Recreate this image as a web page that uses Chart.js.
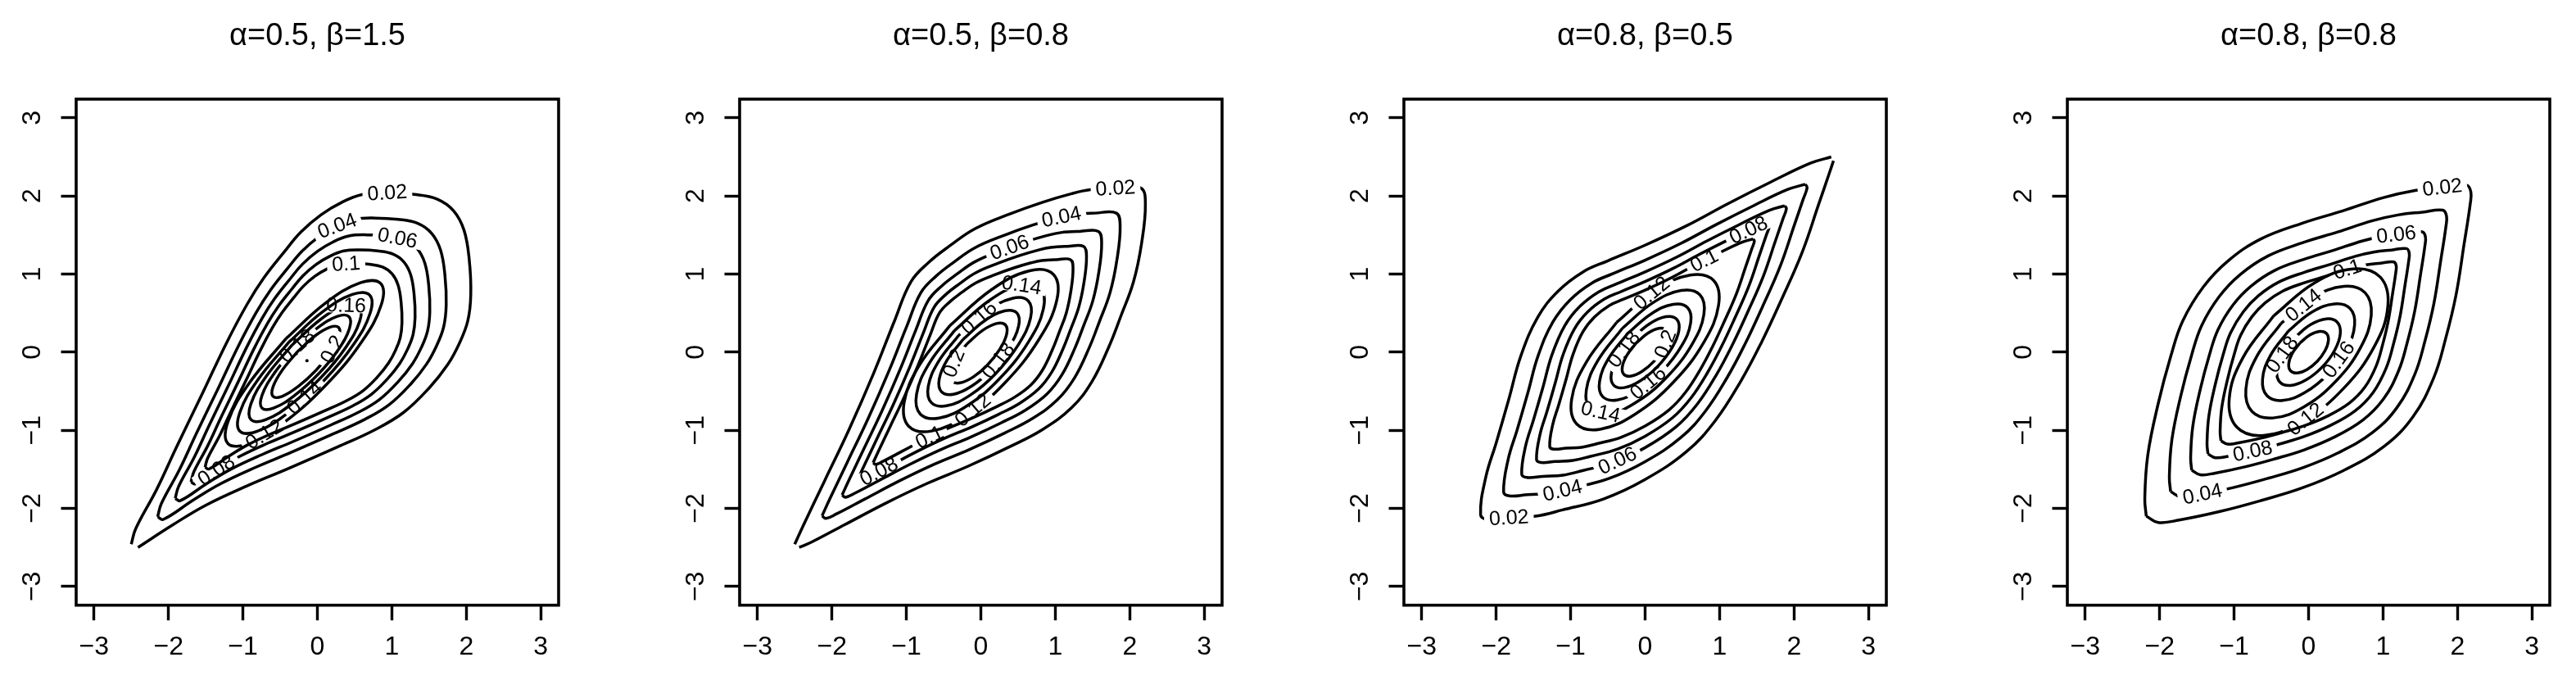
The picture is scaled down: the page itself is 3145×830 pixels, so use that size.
<!DOCTYPE html>
<html>
<head>
<meta charset="utf-8">
<script src="https://cdn.jsdelivr.net/npm/chart.js@4.4.1/dist/chart.umd.min.js"></script>
<style>
  html, body { margin: 0; padding: 0; background: #fff; }
  body { width: 3145px; height: 830px; position: relative; overflow: hidden; }
  .panel { position: absolute; top: 0; width: 714px; height: 830px; }
</style>
</head>
<body>
<div class="panel" style="left:0px"><canvas id="p1" width="714" height="830"></canvas></div>
<div class="panel" style="left:810px"><canvas id="p2" width="714" height="830"></canvas></div>
<div class="panel" style="left:1621px"><canvas id="p3" width="714" height="830"></canvas></div>
<div class="panel" style="left:2431px"><canvas id="p4" width="714" height="830"></canvas></div>
<script>
const panelTitles = ['α=0.5, β=1.5', 'α=0.5, β=0.8', 'α=0.8, β=0.5', 'α=0.8, β=0.8'];
const tickValues = [-3, -2, -1, 0, 1, 2, 3];
const tickLabels = ['−3', '−2', '−1', '0', '1', '2', '3'];
const levelLabels = ['0.02', '0.04', '0.06', '0.08', '0.1', '0.12', '0.14', '0.16', '0.18', '0.2'];

// the 0.02 contour of each panel
const outer1 = [[-2.50, -2.46], [-2.44, -2.26], [-2.16, -1.76], [-1.89, -1.21], [-1.55, -0.54], [-1.22, 0.12],
  [-0.94, 0.62], [-0.72, 0.95], [-0.44, 1.29], [-0.22, 1.54], [0.05, 1.76], [0.33, 1.92], [0.61, 2.02],
  [0.94, 2.04], [1.30, 2.02], [1.61, 1.96], [1.83, 1.81], [1.97, 1.56], [2.04, 1.18], [2.06, 0.73],
  [2.02, 0.40], [1.91, 0.12], [1.75, -0.16], [1.50, -0.46], [1.16, -0.77], [0.78, -0.99], [0.28, -1.21],
  [-0.39, -1.49], [-0.94, -1.71], [-1.50, -1.96], [-1.94, -2.21], [-2.41, -2.50]];
const outer2 = [[-2.50, -2.46], [-2.38, -2.21], [-2.10, -1.65], [-1.77, -0.99], [-1.44, -0.27], [-1.16, 0.40],
  [-0.94, 0.90], [-0.70, 1.15], [-0.42, 1.36], [-0.08, 1.58], [0.39, 1.77], [0.83, 1.92], [1.22, 2.03],
  [1.47, 2.08], [1.81, 2.10], [2.15, 2.10], [2.21, 1.90], [2.16, 1.40], [2.05, 0.90], [1.88, 0.46],
  [1.72, 0.07], [1.49, -0.38], [1.22, -0.71], [0.83, -0.99], [0.39, -1.21], [-0.17, -1.46], [-0.72, -1.68],
  [-1.27, -1.93], [-1.83, -2.21], [-2.27, -2.43], [-2.44, -2.50]];
const outer3 = [[2.50, 2.50], [2.22, 2.42], [1.67, 2.17], [1.11, 1.90], [0.56, 1.62], [0.00, 1.37], [-0.50, 1.17],
  [-0.83, 1.03], [-1.17, 0.78], [-1.44, 0.45], [-1.67, -0.05], [-1.83, -0.60], [-2.00, -1.16], [-2.14, -1.60],
  [-2.21, -2.08], [-2.12, -2.14], [-1.83, -2.12], [-1.47, -2.10], [-1.11, -2.02], [-0.56, -1.88], [0.00, -1.63],
  [0.56, -1.27], [0.94, -0.88], [1.28, -0.38], [1.56, 0.12], [1.83, 0.67], [2.11, 1.28], [2.33, 1.89],
  [2.47, 2.28], [2.53, 2.45]];
const outer4 = [[-2.18, -2.10], [-2.02, -2.18], [-1.74, -2.15], [-1.19, -2.04], [-0.64, -1.90], [-0.09, -1.74],
  [0.46, -1.52], [1.01, -1.21], [1.40, -0.83], [1.68, -0.33], [1.84, 0.17], [1.98, 0.73], [2.09, 1.39],
  [2.17, 1.89], [2.18, 2.05], [2.12, 2.14], [1.80, 2.11], [1.43, 2.07], [1.01, 1.98], [0.46, 1.81],
  [-0.09, 1.65], [-0.64, 1.45], [-1.08, 1.17], [-1.41, 0.84], [-1.69, 0.40], [-1.85, -0.05], [-2.02, -0.66],
  [-2.16, -1.32], [-2.20, -1.88], [-2.18, -2.10]];

// the 0.12 contour of each panel (already a smooth oval)
const inner1 = [[-0.423, 0.173], [-0.915, -0.396], [-1.200, -0.887], [-1.201, -1.171], [-0.917, -1.170],
  [-0.426, -0.885], [0.143, -0.393], [0.600, 0.140], [0.858, 0.606], [0.850, 0.880], [0.576, 0.888], [0.110, 0.630]];
const inner2 = [[-0.418, 0.338], [-0.828, -0.171], [-1.030, -0.642], [-0.969, -0.949], [-0.662, -1.010],
  [-0.191, -0.808], [0.318, -0.398], [0.781, 0.164], [1.022, 0.674], [0.975, 0.995], [0.654, 1.042], [0.144, 0.801]];
const inner3 = [[-0.382, 0.382], [-0.790, -0.129], [-0.987, -0.605], [-0.919, -0.919], [-0.605, -0.987],
  [-0.129, -0.790], [0.382, -0.382], [0.790, 0.129], [0.987, 0.605], [0.919, 0.919], [0.605, 0.987], [0.129, 0.790]];
const inner4 = [[-0.467, 0.467], [-0.885, -0.076], [-1.066, -0.600], [-0.962, -0.962], [-0.600, -1.066],
  [-0.076, -0.885], [0.467, -0.467], [0.885, 0.076], [1.066, 0.600], [0.962, 0.962], [0.600, 1.066], [0.076, 0.885]];

// peak of each density (the contours close round it)
const centres = [[-0.14, -0.11], [-0.05, -0.03], [0.0, 0.0], [0.0, 0.0]];

// size of each level 0.02 ... 0.2: the first five against the 0.02 contour, the rest against the 0.12 one
const shrink1 = [1, 0.85, 0.75, 0.66, 0.58, 1, 0.85, 0.71, 0.57, 0.43];
const shrink2 = [1, 0.85, 0.74, 0.65, 0.57, 1, 0.83, 0.67, 0.52, 0.37];
const shrink3 = [1, 0.86, 0.75, 0.66, 0.58, 1, 0.8, 0.62, 0.46, 0.31];
const shrink4 = [1, 0.85, 0.72, 0.62, 0.54, 1, 0.79, 0.58, 0.4, 0.25];

// where the level labels sit
const spots1 = [[0.94, 2.02], [0.28, 1.58], [1.05, 1.34], [-1.30, -1.60], [0.39, 1.06], [-0.72, -1.04],
  [-0.11, -0.65], [0.39, 0.70], [-0.31, 0.12], [0.25, 0.01]];
const spots2 = [[1.81, 2.08], [1.08, 1.75], [0.39, 1.33], [-1.33, -1.60], [-0.66, -1.15], [-0.11, -0.74],
  [0.55, 0.87], [-0.06, 0.48], [0.30, -0.16], [-0.47, -0.10]];
const spots3 = [[-1.83, -2.11], [-1.11, -1.77], [-0.39, -1.35], [1.36, 1.62], [0.78, 1.20], [0.11, 0.73],
  [-0.64, -0.94], [0.08, -0.44], [-0.36, 0.09], [0.39, 0.06]];
const spots4 = [[1.80, 2.08], [-1.44, -1.75], [1.18, 1.49], [-0.75, -1.27], [0.52, 1.06], [-0.09, -0.80],
  [-0.06, 0.59], [0.41, -0.10], [-0.47, 0.01], null];

const fontFamily = '"Liberation Sans", Arial, Helvetica, sans-serif';
const labelFont = '25px ' + fontFamily;

function levelPoints(shape, centre, s, closed) {
  const pts = shape.map(([x, y]) => ({ x: centre[0] + s * (x - centre[0]), y: centre[1] + s * (y - centre[1]) }));
  if (closed) pts.push({ x: pts[0].x, y: pts[0].y });
  return pts;
}

function nearestOnPath(pts, px, py) {
  let best = null;
  for (let k = 0; k < pts.length - 1; k++) {
    const a = pts[k], b = pts[k + 1];
    const dx = b.x - a.x, dy = b.y - a.y;
    const len2 = dx * dx + dy * dy || 1;
    let t = ((px - a.x) * dx + (py - a.y) * dy) / len2;
    t = Math.max(0, Math.min(1, t));
    const qx = a.x + t * dx, qy = a.y + t * dy;
    const d = (qx - px) * (qx - px) + (qy - py) * (qy - py);
    if (!best || d < best.d) best = { d, x: qx, y: qy, ang: Math.atan2(dy, dx) };
  }
  if (best.ang > Math.PI / 2) best.ang -= Math.PI;
  if (best.ang < -Math.PI / 2) best.ang += Math.PI;
  return best;
}

// R look: box, rotated y labels, title, labels cut into their own contour
function rLook(title, spots) {
  return {
    id: 'rLook',
    beforeDatasetsDraw(chart) {
      const ctx = chart.ctx;
      ctx.save();
      ctx.font = labelFont;
      chart.$labels = spots.map((spot, i) => {
        if (!spot) return null;
        const pts = chart.getDatasetMeta(i).data.map((p) => ({ x: p.x, y: p.y }));
        const sx = chart.scales.x.getPixelForValue(spot[0]);
        const sy = chart.scales.y.getPixelForValue(spot[1]);
        const n = nearestOnPath(pts, sx, sy);
        return { x: n.x, y: n.y, a: n.ang, text: levelLabels[i], w: ctx.measureText(levelLabels[i]).width };
      });
      ctx.restore();
    },
    beforeDatasetDraw(chart, args) {
      const lab = chart.$labels && chart.$labels[args.index];
      if (!lab) return;
      const ctx = chart.ctx;
      const c = Math.cos(lab.a), s = Math.sin(lab.a);
      const hw = lab.w / 2 + 6, hh = 9;
      ctx.save();
      ctx.beginPath();
      ctx.rect(0, 0, chart.width, chart.height);
      [[-hw, -hh], [hw, -hh], [hw, hh], [-hw, hh]].forEach(([u, v], k) => {
        const px = lab.x + u * c - v * s, py = lab.y + u * s + v * c;
        if (k) ctx.lineTo(px, py); else ctx.moveTo(px, py);
      });
      ctx.closePath();
      ctx.clip('evenodd');
    },
    afterDatasetDraw(chart, args) {
      if (chart.$labels && chart.$labels[args.index]) chart.ctx.restore();
    },
    afterDatasetsDraw(chart) {
      const ctx = chart.ctx;
      ctx.save();
      ctx.font = labelFont;
      ctx.fillStyle = '#000';
      ctx.textAlign = 'center';
      ctx.textBaseline = 'middle';
      chart.$labels.forEach((lab) => {
        if (!lab) return;
        ctx.save();
        ctx.translate(lab.x, lab.y);
        ctx.rotate(lab.a);
        ctx.fillText(lab.text, 0, 1);
        ctx.restore();
      });
      ctx.restore();
    },
    afterDraw(chart) {
      const ctx = chart.ctx;
      const area = chart.chartArea;
      ctx.save();
      ctx.strokeStyle = '#000';
      ctx.lineWidth = 3.6;
      ctx.strokeRect(area.left, area.top, area.right - area.left, area.bottom - area.top);
      ctx.fillStyle = '#000';
      ctx.textAlign = 'center';
      ctx.textBaseline = 'middle';
      ctx.font = '38px ' + fontFamily;
      ctx.fillText(title, (area.left + area.right) / 2, 45);
      ctx.font = '32px ' + fontFamily;
      tickValues.forEach((v, i) => {
        ctx.save();
        ctx.translate(40, chart.scales.y.getPixelForValue(v));
        ctx.rotate(-Math.PI / 2);
        ctx.fillText(tickLabels[i], 0, 0);
        ctx.restore();
      });
      ctx.restore();
    },
  };
}

function makePanel(id, title, outer, inner, centre, shrink, spots, openOuter, dot) {
  const datasets = shrink.map((s, i) => ({
    data: i < 5 ? levelPoints(outer, centre, s, !(openOuter && i === 0)) : levelPoints(inner, centre, s, true),
    borderColor: '#000',
    borderWidth: 3.5,
    pointRadius: 0,
    tension: 0.4,
    fill: false,
  }));
  if (dot) {
    datasets.push({
      data: [{ x: centre[0], y: centre[1] }],
      showLine: false,
      pointRadius: 2,
      pointBackgroundColor: '#000',
      pointBorderWidth: 0,
    });
  }
  const tickGrid = { drawOnChartArea: false, drawTicks: true, tickLength: 18.5, tickWidth: 3.4, tickColor: '#000' };
  return new Chart(document.getElementById(id), {
    type: 'line',
    data: { datasets },
    plugins: [rLook(title, spots)],
    options: {
      responsive: false,
      animation: false,
      events: [],
      layout: { padding: { top: 121, right: 32, left: 0, bottom: 0 } },
      plugins: { legend: { display: false }, tooltip: { enabled: false } },
      scales: {
        x: {
          type: 'linear',
          min: -3.24,
          max: 3.24,
          afterBuildTicks: (sc) => { sc.ticks = tickValues.map((v) => ({ value: v })); },
          afterFit: (sc) => { sc.height = 91.3; },
          grid: tickGrid,
          border: { display: false },
          ticks: {
            callback: (v, i) => tickLabels[i],
            font: { family: fontFamily, size: 32 },
            color: '#000',
            padding: 13.6,
            maxRotation: 0,
            autoSkip: false,
          },
        },
        y: {
          type: 'linear',
          min: -3.24,
          max: 3.24,
          afterBuildTicks: (sc) => { sc.ticks = tickValues.map((v) => ({ value: v })); },
          afterFit: (sc) => { sc.width = 93; },
          grid: tickGrid,
          border: { display: false },
          ticks: { display: false },
        },
      },
    },
  });
}

makePanel('p1', panelTitles[0], outer1, inner1, centres[0], shrink1, spots1, true, true);
makePanel('p2', panelTitles[1], outer2, inner2, centres[1], shrink2, spots2, true, false);
makePanel('p3', panelTitles[2], outer3, inner3, centres[2], shrink3, spots3, true, false);
makePanel('p4', panelTitles[3], outer4, inner4, centres[3], shrink4, spots4, false, false);
</script>
</body>
</html>
